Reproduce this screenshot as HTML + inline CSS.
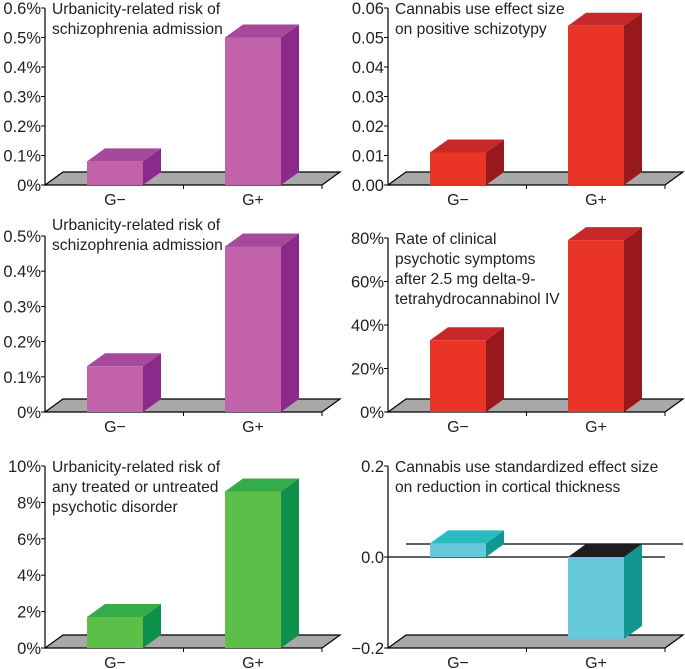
<!DOCTYPE html>
<html><head><meta charset="utf-8"><style>
body{margin:0;background:#fff;}
svg{display:block;font-family:"Liberation Sans",Arial,sans-serif;}
</style></head><body>
<svg id="c" width="685" height="669"></svg>
<script>
const categories=["G\u2212","G+"];
const p1Values=[0.08,0.50];
const p1Ticks=[0,0.1,0.2,0.3,0.4,0.5,0.6];
const p1TickLabels=["0%","0.1%","0.2%","0.3%","0.4%","0.5%","0.6%"];
const p2Values=[0.011,0.054];
const p2Ticks=[0,0.01,0.02,0.03,0.04,0.05,0.06];
const p2TickLabels=["0.00","0.01","0.02","0.03","0.04","0.05","0.06"];
const p3Values=[0.13,0.47];
const p3Ticks=[0,0.1,0.2,0.3,0.4,0.5];
const p3TickLabels=["0%","0.1%","0.2%","0.3%","0.4%","0.5%"];
const p4Values=[33,79];
const p4Ticks=[0,20,40,60,80];
const p4TickLabels=["0%","20%","40%","60%","80%"];
const p5Values=[1.7,8.6];
const p5Ticks=[0,2,4,6,8,10];
const p5TickLabels=["0%","2%","4%","6%","8%","10%"];
const p6Values=[0.03,-0.18];
const p6Ticks=[-0.2,0,0.2];
const p6TickLabels=["\u22120.2","0.0","0.2"];

const NS="http://www.w3.org/2000/svg";
const svg=document.getElementById('c');
function mk(tag,attrs,parent,name){const e=document.createElementNS(NS,tag);for(const k in attrs)e.setAttribute(k,attrs[k]);


(parent||svg).appendChild(e);return e;}
function poly(pts,fill,parent,name){return mk('polygon',{points:pts.map(p=>p.join(',')).join(' '),fill:fill,stroke:fill==='#a8a8a8'?'#000':'none','stroke-width':1.2},parent,name);}

const panels=[
 {id:'p1',ax:45,yTop:8,yBot:185,min:0,max:0.6,vals:p1Values,ticks:p1Ticks,labels:p1TickLabels,
  col:['#c262aa','#a6489c','#8c2a8c'],title:["Urbanicity-related risk of","schizophrenia admission"],ty:14},
 {id:'p2',ax:388,yTop:8,yBot:185,min:0,max:0.06,vals:p2Values,ticks:p2Ticks,labels:p2TickLabels,
  col:['#ea3426','#c7282a','#98191c'],title:["Cannabis use effect size","on positive schizotypy"],ty:14},
 {id:'p3',ax:45,yTop:236,yBot:412,min:0,max:0.5,vals:p3Values,ticks:p3Ticks,labels:p3TickLabels,
  col:['#c262aa','#a6489c','#8c2a8c'],title:["Urbanicity-related risk of","schizophrenia admission"],ty:230},
 {id:'p4',ax:388,yTop:238,yBot:412,min:0,max:80,vals:p4Values,ticks:p4Ticks,labels:p4TickLabels,
  col:['#ea3426','#c7282a','#98191c'],title:["Rate of clinical","psychotic symptoms","after 2.5 mg delta-9-","tetrahydrocannabinol IV"],ty:244},
 {id:'p5',ax:45,yTop:466,yBot:648,min:0,max:10,vals:p5Values,ticks:p5Ticks,labels:p5TickLabels,
  col:['#5cbf48','#34ac4a','#0e904a'],title:["Urbanicity-related risk of","any treated or untreated","psychotic disorder"],ty:472},
 {id:'p6',ax:388,yTop:466,yBot:648,min:-0.2,max:0.2,vals:p6Values,ticks:p6Ticks,labels:p6TickLabels,
  col:['#66c9d9','#27bdc0','#139590'],title:["Cannabis use standardized effect size","on reduction in cortical thickness"],ty:472}
];
const DX=18,DY=-13,W=277;
panels.forEach(P=>{
 const g=mk('g',{},svg,P.id+'-panel');
 const y=v=>P.yBot-(v-P.min)/(P.max-P.min)*(P.yBot-P.yTop);
 const ax=P.ax,yb=P.yBot;
 poly([[ax,yb],[ax+W,yb],[ax+W+DX,yb+DY],[ax+DX,yb+DY]],'#a8a8a8',g,'floor');
 mk('line',{x1:ax,y1:P.yTop,x2:ax,y2:yb,stroke:'#000','stroke-width':1.2},g,'y-axis');
 mk('line',{x1:ax+W/2,y1:yb,x2:ax+W/2,y2:yb+4,stroke:'#000'},g,'x-tick');
 mk('line',{x1:ax+W,y1:yb,x2:ax+W,y2:yb+4,stroke:'#000'},g,'x-tick');
 P.ticks.forEach((t,i)=>{
  mk('line',{x1:ax-4,y1:y(t),x2:ax,y2:y(t),stroke:'#000'},g,'y-tick');
  if(P.labels[i]!==''){const tx=mk('text',{x:ax-4,y:y(t)+6,'text-anchor':'end','font-size':16.5,fill:'#222'},g,'y-tick-label');tx.textContent=P.labels[i];}
 });
 if(P.min<0){
  mk('line',{x1:ax,y1:y(0),x2:ax+W,y2:y(0),stroke:'#000','stroke-width':1.2},g,'zero-line');
  mk('line',{x1:ax+DX,y1:y(0)+DY,x2:ax+W+DX,y2:y(0)+DY,stroke:'#000','stroke-width':1.2},g,'zero-line-back');
 }
 const offs=[42,180],bw=56;
 P.vals.forEach((v,i)=>{
  const x0=ax+offs[i],x1=x0+bw;
  const base=P.min<0?y(0):yb;
  const top=y(v);
  const hi=Math.min(base,top),lo=Math.max(base,top);
  poly([[x1,hi],[x1+DX,hi+DY],[x1+DX,lo+DY],[x1,lo]],P.col[2],g,'bar-side-'+categories[i]);
  poly([[x0,hi],[x1,hi],[x1+DX,hi+DY],[x0+DX,hi+DY]],v<0?'#1e1e1e':P.col[1],g,'bar-top-'+categories[i]);
  poly([[x0,hi],[x1,hi],[x1,lo],[x0,lo]],P.col[0],g,'bar-'+categories[i]);
  const lt=mk('text',{x:ax+offs[i]+28,y:yb+20,'text-anchor':'middle','font-size':16,fill:'#222'},g,'x-label');
  lt.textContent=categories[i];
 });
 P.title.forEach((s,i)=>{const t=mk('text',{x:ax+7,y:P.ty+i*20,'font-size':15.6,fill:'#222'},g,'chart-title');t.textContent=s;});
});
</script>
</body></html>
